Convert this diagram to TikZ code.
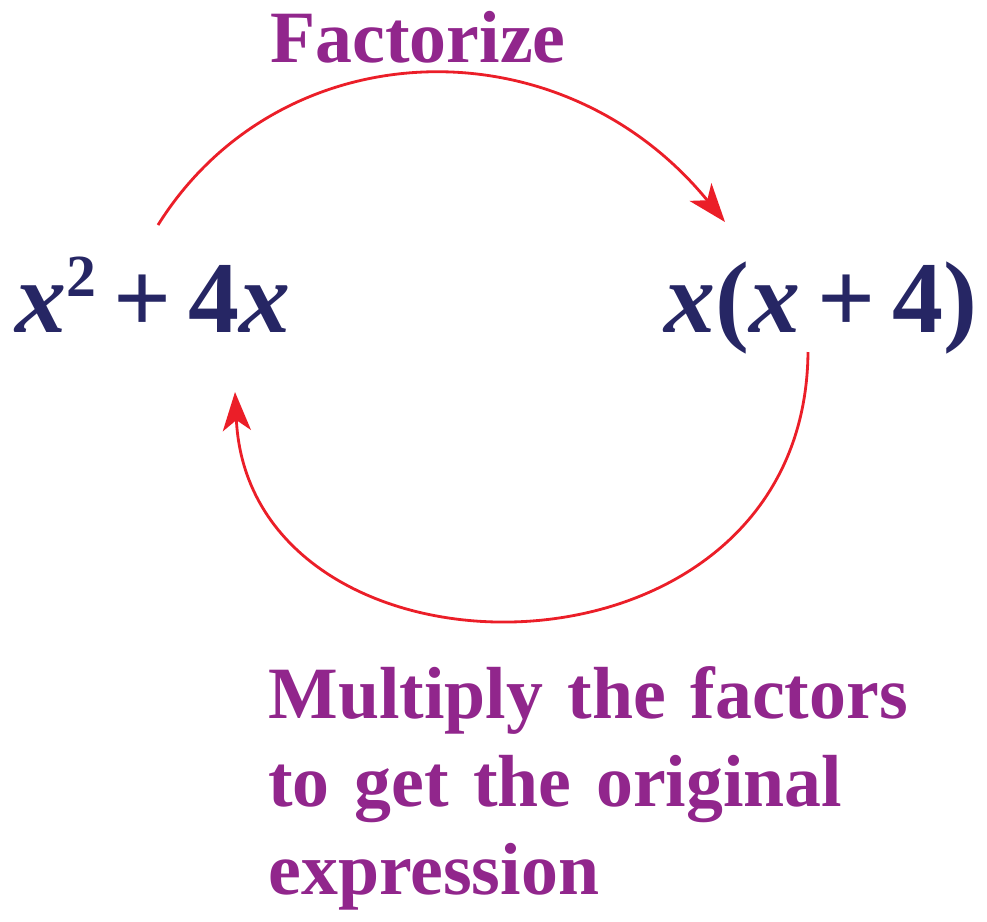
\documentclass[tikz,border=0pt]{standalone}
\usepackage{fontspec}
\setmainfont{Liberation Serif}
\usetikzlibrary{arrows.meta}
\definecolor{lbl}{RGB}{145,38,140}
\definecolor{ex}{RGB}{38,38,100}
\definecolor{arr}{RGB}{235,30,40}
\tikzset{
 lab/.style={text=lbl,font=\bfseries\fontsize{42}{50}\selectfont,inner sep=0pt},
 expr/.style={text=ex,font=\bfseries\fontsize{58}{66}\selectfont,inner sep=0pt},
 conn/.style={draw=arr,line width=1.6pt,-{Stealth[length=22pt,width=16pt,inset=6pt]}}
}
\begin{document}
\begin{tikzpicture}[x=0.02cm,y=-0.02cm]
\useasboundingbox (0,0) rectangle (987,921);
\node[expr,anchor=base west] (L) at (15,332) {\textit{x}\raisebox{20pt}{\fontsize{34}{40}\selectfont 2}\,+\,4\textit{x}};
\node[expr,anchor=base east] (R) at (978,332) {\textit{x}(\textit{x}\,+\,4)};
\node[lab,anchor=base] (F) at (418,62) {Factorize};
\node[lab,anchor=north west,align=left,text width=700] (M) at (268,666) {Multiply the factors\\to get the original\\expression};
\coordinate (a1) at (158,225);
\coordinate (a2) at (725,222);
\coordinate (b1) at (808,352);
\coordinate (b2) at (235,392);
\draw[conn] (a1) .. controls (280,30) and (560,20) .. (a2);
\draw[conn] (b1) .. controls (805,700) and (250,700) .. (b2);
\end{tikzpicture}
\end{document}
